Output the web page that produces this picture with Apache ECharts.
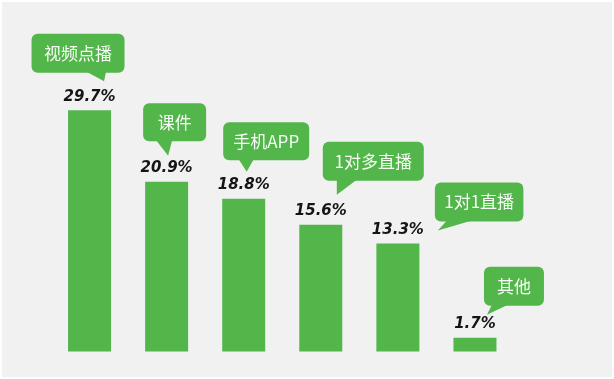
<!DOCTYPE html>
<html>
<head>
<meta charset="utf-8">
<script src="https://cdn.jsdelivr.net/npm/echarts@6/dist/echarts.min.js"></script>
<style>
html,body{margin:0;padding:0;background:#ffffff;}
#chart{width:614px;height:379px;}
</style>
</head>
<body>
<div id="chart"></div>
<script>
// ---- data ----
const categories = ['视频点播', '课件', '手机APP', '1对多直播', '1对1直播', '其他'];
const shares = [29.7, 20.9, 18.8, 15.6, 13.3, 1.7];

// ---- callout layout (pixels, relative to bar top centre) ----
// dx, dy: box top-left offset; w, h: box size; tail: [baseLeft, baseRight, apexX, apexY]
const calloutLayout = [
  {dx: -58,   dy: -76.5, w: 93,  h: 39, tail: [-3, 16.5, 14.5, -29]},
  {dx: -23.5, dy: -78.5, w: 63,  h: 38, tail: [-10.5, 5.5, 1.5, -26]},
  {dx: -20.5, dy: -76.5, w: 86,  h: 38, tail: [-5, 10, 3, -27]},
  {dx: 2,     dy: -83,   w: 101, h: 39, tail: [16, 36, 16, -30]},
  {dx: 37,    dy: -61,   w: 88.5,h: 39, tail: [49, 74, 40, -13]},
  {dx: 9,     dy: -71,   w: 60,  h: 39, tail: [17, 33, 12, -23]}
];

const GREEN = '#52b64b';

const chart = echarts.init(document.getElementById('chart'), null, {renderer: 'canvas'});

const option = {
  backgroundColor: '#f2f1f1',
  animation: false,
  grid: {left: 51, right: 100.5, top: 26.5, bottom: 27.5, containLabel: false},
  xAxis: {
    type: 'category',
    data: categories,
    show: false
  },
  yAxis: {
    type: 'value',
    min: 0,
    max: 40,
    show: false,
    splitLine: {show: false}
  },
  graphic: [{
    type: 'rect',
    shape: {x: 0, y: 0, width: 614, height: 379},
    style: {fill: 'none', stroke: '#ffffff', lineWidth: 4},
    z: 100
  }],
  series: [
    {
      type: 'bar',
      data: shares,
      barWidth: 43,
      itemStyle: {color: GREEN},
      label: {
        show: true,
        position: 'top',
        distance: 6,
        formatter: '{c}%',
        color: '#151515',
        fontFamily: 'DejaVu Sans',
        fontStyle: 'italic',
        fontWeight: 'bold',
        fontSize: 15
      }
    },
    {
      type: 'custom',
      clip: false,
      z: 5,
      data: shares.map((v, i) => [i, v]),
      encode: {x: 0, y: 1},
      renderItem: function (params, api) {
        const i = params.dataIndex;
        const p = api.coord([api.value(0), api.value(1)]);
        const b = calloutLayout[i];
        const x0 = p[0] + b.dx;
        const y0 = p[1] + b.dy;
        const by = y0 + b.h - 1;
        return {
          type: 'group',
          children: [
            {
              type: 'polygon',
              shape: {points: [[p[0] + b.tail[0], by], [p[0] + b.tail[1], by], [p[0] + b.tail[2], p[1] + b.tail[3]]]},
              style: {fill: GREEN}
            },
            {
              type: 'rect',
              shape: {x: x0, y: y0, width: b.w, height: b.h, r: 6},
              style: {fill: GREEN}
            },
            {
              type: 'text',
              style: {
                text: categories[i],
                x: x0 + b.w / 2,
                y: y0 + b.h / 2,
                align: 'center',
                verticalAlign: 'middle',
                fill: '#f7fcf6',
                fontSize: 17,
                fontFamily: '"Noto Sans CJK SC", sans-serif'
              }
            }
          ]
        };
      }
    }
  ]
};

chart.setOption(option);
</script>
</body>
</html>
